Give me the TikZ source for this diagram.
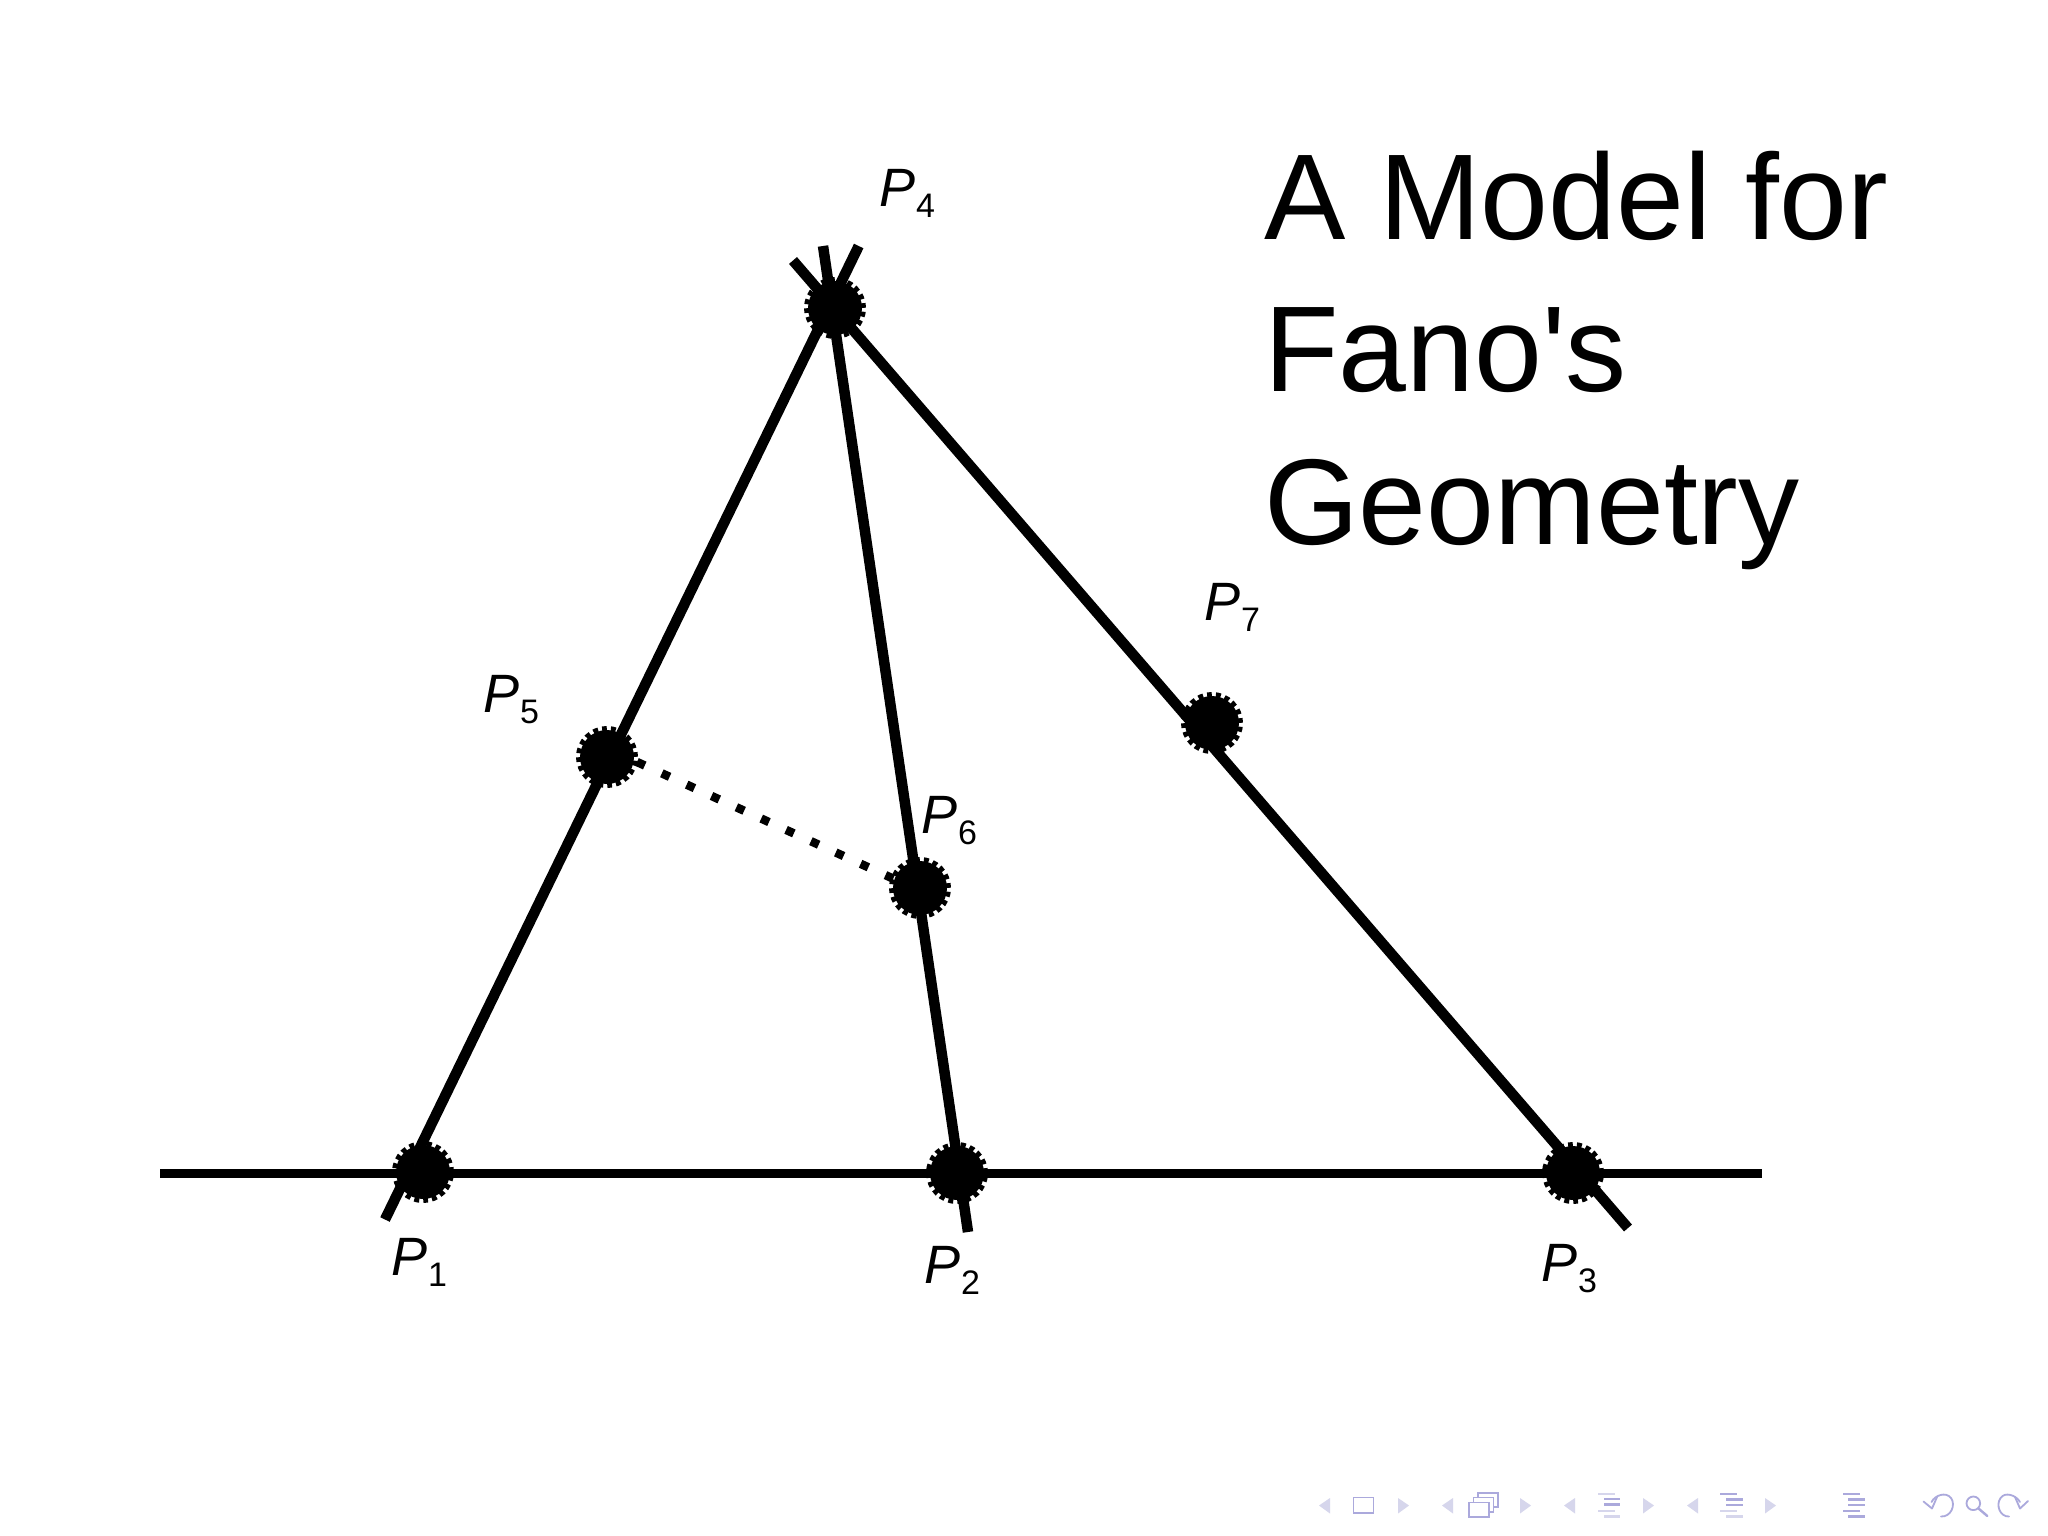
\documentclass[tikz,border=0pt]{standalone}
\usepackage{fontspec}
\setmainfont{Liberation Sans}
\newfontfamily\titlefont{Liberation Sans}
\definecolor{navd}{HTML}{ABA9DC}
\definecolor{navl}{HTML}{D6D6EC}
\newcommand{\plab}[1]{{\fontsize{54}{60}\selectfont\itshape P}\hspace{1pt}\raisebox{-11.5pt}{\fontsize{34}{40}\selectfont #1}}
\tikzset{
  pointdot/.style={circle,fill=black,draw=black,inner sep=0pt,minimum size=54pt,line width=8pt,dash pattern=on 4.7pt off 3.78pt},
  thick line/.style={draw=black,line width=10.5pt},
  base line/.style={draw=black,line width=9pt},
  dot line/.style={draw=black,line width=8.5pt,dash pattern=on 8.5pt off 18.8pt},
  plabel/.style={anchor=base west,inner sep=0pt,outer sep=0pt},
  titletext/.style={anchor=base west,inner sep=0pt,outer sep=0pt,align=left,font=\titlefont\fontsize{122}{152.5}\selectfont},
  navtri/.style={fill=navl},
  navbox/.style={draw=navd,line width=1.6pt},
  navbar/.style={fill=navd},
  navbarl/.style={fill=navl},
  navline/.style={draw=navd,line width=1.8pt,line cap=round,line join=round}
}
\newcommand{\navleft}[2]{\fill[navtri] (#1,1505.5) -- (#2,1498) -- (#2,1513.5) -- cycle;}
\newcommand{\navright}[2]{\fill[navtri] (#2,1505.5) -- (#1,1498) -- (#1,1513.5) -- cycle;}
\begin{document}
\begin{tikzpicture}[x=1pt,y=-1pt]
\useasboundingbox (0,0) rectangle (2048,1536);
\fill[white] (0,0) rectangle (2048,1536);
% free line ends
\coordinate (hA) at (160,1173);
\coordinate (hB) at (1762,1173);
\coordinate (aA) at (385,1219.5);
\coordinate (aB) at (858.7,246);
\coordinate (bA) at (968,1232);
\coordinate (bB) at (823,246);
\coordinate (cA) at (1628,1228);
\coordinate (cB) at (793,260.5);
\coordinate (dA) at (637,762);
\coordinate (dB) at (894,879);
\draw[base line] (hA) -- (hB);
\draw[thick line] (aA) -- (aB);
\draw[thick line] (bA) -- (bB);
\draw[thick line] (cA) -- (cB);
\draw[dot line] (dA) -- (dB);
% points
\node[pointdot] (p1) at (423,1172) {};
\node[pointdot] (p2) at (957,1173) {};
\node[pointdot] (p3) at (1573,1173) {};
\node[pointdot] (p4) at (835,308) {};
\node[pointdot] (p5) at (607,757) {};
\node[pointdot] (p6) at (920,888) {};
\node[pointdot] (p7) at (1212,723) {};
% labels
\node[plabel] (l1) at (391,1275) {\plab{1}};
\node[plabel] (l2) at (924,1283) {\plab{2}};
\node[plabel] (l3) at (1541,1281) {\plab{3}};
\node[plabel] (l4) at (879,206) {\plab{4}};
\node[plabel] (l5) at (483,712) {\plab{5}};
\node[plabel] (l6) at (921,833) {\plab{6}};
\node[plabel] (l7) at (1204,620) {\plab{7}};
% title (the base of this node is its last line)
\node[titletext] (title) at (1264,544) {A Model for\\Fano's\\Geometry};
% navigation symbols
\navleft{1319}{1330}
\draw[navbox] (1353.5,1497.5) rectangle (1373.5,1513);
\navright{1398}{1409}
\navleft{1442}{1453}
\draw[navbox] (1478,1493) rectangle (1498,1507);
\fill[white] (1473,1497.5) rectangle (1494,1512);
\draw[navbox] (1473.5,1497.5) rectangle (1493.5,1512);
\fill[white] (1469,1502.5) rectangle (1489,1517);
\draw[navbox] (1469,1502.5) rectangle (1489,1517);
\navright{1520}{1531}
\navleft{1564}{1575}
\fill[navbarl] (1597.5,1492.5) rectangle (1614.5,1495);
\fill[navbar]  (1603.5,1497.5) rectangle (1620,1500);
\fill[navbar]  (1603.5,1503) rectangle (1620,1506);
\fill[navbarl] (1597.5,1509.5) rectangle (1614.5,1512);
\fill[navbarl] (1603.5,1515) rectangle (1620,1517.5);
\navright{1643}{1654}
\navleft{1687}{1698}
\fill[navbar]  (1720,1492.5) rectangle (1737,1495);
\fill[navbar]  (1725.5,1498) rectangle (1742.5,1500.5);
\fill[navbar]  (1725.5,1503.5) rectangle (1742.5,1506);
\fill[navbarl] (1720,1509.5) rectangle (1737,1512);
\fill[navbarl] (1725.5,1515) rectangle (1742.5,1517.5);
\navright{1765}{1776}
\fill[navbar] (1842.5,1492.5) rectangle (1859.5,1495);
\fill[navbar] (1848,1498) rectangle (1865,1500.5);
\fill[navbar] (1848,1503.5) rectangle (1865,1506);
\fill[navbar] (1842.5,1509.5) rectangle (1859.5,1512);
\fill[navbar] (1848,1515) rectangle (1865,1517.5);
% back, search, forward
\draw[navline] (1931.5,1502) .. controls (1935,1495) and (1946,1491.5) .. (1951,1498) .. controls (1956,1505) and (1951,1517) .. (1941,1516.5);
\draw[navline] (1923.5,1501.5) -- (1932,1508.5) -- (1937,1497);
\draw[navline] (1973.3,1503.3) circle[radius=6.8];
\draw[navline,line width=2.4pt] (1978.5,1508.5) -- (1987.3,1516);
\draw[navline] (2020,1502) .. controls (2016,1495) and (2005,1491.5) .. (2000.5,1498) .. controls (1995.5,1505) and (2000,1517) .. (2009,1516.5);
\draw[navline] (2028,1501) -- (2020,1508.5) -- (2015,1497);
\end{tikzpicture}
\end{document}
